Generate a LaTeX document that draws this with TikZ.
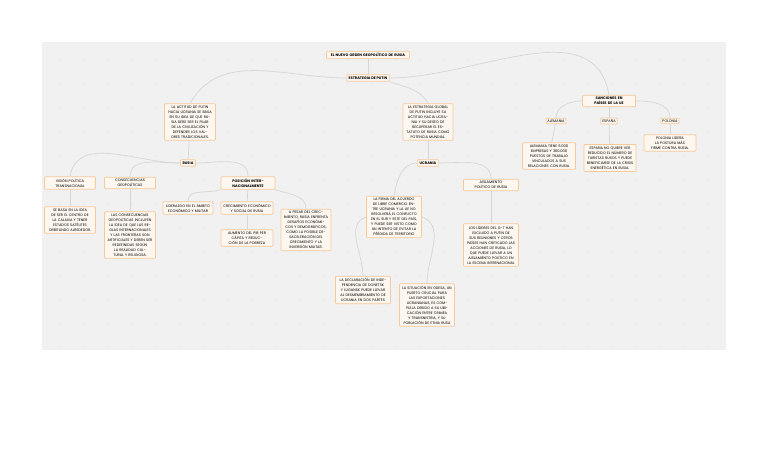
\documentclass[tikz,border=0pt]{standalone}
\usepackage{fontspec}
\setmainfont{Poppins}
\begin{document}
\begin{tikzpicture}[x=1pt,y=-1pt,
  bx/.style={draw=boxline,fill=boxfill,line width=0.7pt,rounded corners=0.8pt,align=center,font=\fontsize{3.6}{5}\selectfont,inner sep=2pt},
  hd/.style={bx,font=\fontsize{3.6}{5}\selectfont\bfseries},
  conn/.style={draw=lineg,line width=0.7pt}]
\definecolor{boxline}{HTML}{F6C99A}
\definecolor{boxfill}{HTML}{FDF7EF}
\definecolor{lineg}{HTML}{D6D6D6}
\definecolor{panel}{HTML}{F1F1F1}
\useasboundingbox (0,0) rectangle (768,466);
\fill[white] (0,0) rectangle (768,466);
\fill[panel] (42,42) rectangle (726,350);
\foreach \i in {0,...,56}{\foreach \j in {0,...,25}{\fill[gray!45] (48+\i*12,48+\j*12) circle (0.45pt);}}
% nodes
\node[hd,text width=79pt] (title) at (368,55) {EL NUEVO ORDEN GEOPOLÍTICO DE RUSIA};
\node[hd] (estr) at (368,78) {ESTRATEGIA DE PUTIN};
\node[bx,text width=47pt] (actitud) at (190,122) {LA ACTITUD DE PUTIN HACIA UCRANIA SE BASA EN SU IDEA DE QUE RUSIA DEBE SER EL PILAR DE LA CIVILIZACIÓN Y DEFENDER LOS VALORES TRADICIONALES.};
\node[hd] (rusia) at (188,163) {RUSIA};
\node[bx,text width=47pt] (vision) at (70,183) {VISIÓN POLÍTICA TRANSNACIONAL};
\node[bx,text width=47pt] (consec) at (130,183) {CONSECUENCIAS GEOPOLÍTICAS};
\node[hd,text width=50pt] (posic) at (248,183) {POSICIÓN INTERNACIONALMENTE};
\node[bx,text width=47pt] (sebasa) at (70,220) {SE BASA EN LA IDEA DE SER EL CENTRO DE LA CALAXIA Y TENER ESTADOS SATÉLITES ORBITANDO ALREDEDOR.};
\node[bx,text width=47pt] (lascon) at (130,235) {LAS CONSECUENCIAS GEOPOLÍTICAS INCLUYEN LA IDEA DE QUE LAS REGLAS INTERNACIONALES Y LAS FRONTERAS SON ARTIFICIALES Y DEBEN SER REDEFINIDAS SEGÚN LA REALIDAD CULTURAL Y RELIGIOSA.};
\node[bx,text width=46pt] (lider) at (188,208) {LIDERAZGO EN EL ÁMBITO ECONÓMICO Y MILITAR};
\node[bx,text width=48pt] (crec) at (247,208) {CRECIMIENTO ECONÓMICO Y SOCIAL DE RUSIA};
\node[bx,text width=48pt] (aum) at (247,238) {AUMENTO DEL PIB PER CÁPITA Y REDUCCIÓN DE LA POBREZA};
\node[bx,text width=46pt] (apesar) at (306,230) {A PESAR DEL CRECIMIENTO, RUSIA ENFRENTA DESAFÍOS ECONÓMICOS Y DEMOGRÁFICOS, COMO LA POSIBLE DESACELERACIÓN DEL CRECIMIENTO Y LA INVERSIÓN MILITAR.};
\node[bx,text width=46pt] (global) at (428,122) {LA ESTRATEGIA GLOBAL DE PUTIN INCLUYE SU ACTITUD HACIA UCRANIA Y SU DESEO DE RECUPERAR EL ESTATUTO DE RUSIA COMO POTENCIA MUNDIAL.};
\node[hd] (ucr) at (428,163) {UCRANIA};
\node[bx,text width=51pt] (firma) at (394,217) {LA FIRMA DEL ACUERDO DE LIBRE COMERCIO ENTRE UCRANIA Y LA UE NO RESOLVERÁ EL CONFLICTO EN EL SUR Y ESTE DEL PAÍS, Y PUEDE SER VISTO COMO UN INTENTO DE EVITAR LA PÉRDIDA DE TERRITORIO};
\node[bx,text width=51pt] (aisl) at (491,185) {AISLAMIENTO POLÍTICO DE RUSIA};
\node[bx,text width=51pt] (lideres) at (491,245) {LOS LÍDERES DEL G-7 HAN EXCLUIDO A PUTIN DE SUS REUNIONES Y OTROS PAÍSES HAN CRITICADO LAS ACCIONES DE RUSIA, LO QUE PUEDE LLEVAR A UN AISLAMIENTO POLÍTICO EN LA ESCENA INTERNACIONAL};
\node[bx,text width=51pt] (decl) at (363,290) {LA DECLARACIÓN DE INDEPENDENCIA DE DONETSK Y LUGANSK PUEDE LLEVAR AL DESMEMBRAMIENTO DE UCRANIA EN DOS PARTES};
\node[bx,text width=51pt] (sit) at (427,305) {LA SITUACIÓN EN ODESA, UN PUERTO CRUCIAL PARA LAS EXPORTACIONES UCRANIANAS, ES COMPLEJA DEBIDO A SU UBICACIÓN ENTRE CRIMEA Y TRANSNISTRIA, Y SU POBLACIÓN DE ETNIA RUSA};
\node[hd,text width=49pt] (sanc) at (609,101) {SANCIONES EN PAÍSES DE LA UE};
\node[bx,inner sep=1.5pt] (ale) at (556,121) {ALEMANIA};
\node[bx,inner sep=1.5pt] (esp) at (609,121) {ESPAÑA};
\node[bx,inner sep=1.5pt] (pol) at (670,121) {POLONIA};
\node[bx,text width=49pt] (aletx) at (549,156) {ALEMANIA TIENE 6.000 EMPRESAS Y 300.000 PUESTOS DE TRABAJO VINCULADOS A SUS RELACIONES CON RUSIA.};
\node[bx,text width=48pt] (esptx) at (610,158) {ESPAÑA NO QUIERE VER REDUCIDO EL NÚMERO DE TURISTAS RUSOS Y PUEDE BENEFICIARSE DE LA CRISIS ENERGÉTICA EN RUSIA.};
\node[bx,text width=48pt] (poltx) at (670,143) {POLONIA LIDERA LA POSTURA MÁS FIRME CONTRA RUSIA.};
% connectors
\begin{scope}[on background layer/.style={}]
\end{scope}
\draw[conn] (title) -- (estr);
\draw[conn] (estr.west) to[out=180,in=60] (actitud.north);
\draw[conn] (estr.east) to[out=0,in=100] (sanc.north);
\draw[conn] (estr.south east) to[out=-20,in=120] (global.north);
\draw[conn] (actitud) -- (rusia);
\draw[conn] (rusia.west) to[out=180,in=80] (vision.north);
\draw[conn] (rusia.west) to[out=180,in=90] (consec.north);
\draw[conn] (rusia.east) to[out=0,in=90] (posic.north);
\draw[conn] (vision) -- (sebasa);
\draw[conn] (consec) -- (lascon);
\draw[conn] (posic.south west) to[out=200,in=90] (lider.north);
\draw[conn] (posic) -- (crec);
\draw[conn] (posic.south east) to[out=-20,in=90] (apesar.north);
\draw[conn] (crec) -- (aum);
\draw[conn] (global) -- (ucr);
\draw[conn] (ucr.west) to[out=180,in=80] (firma.north);
\draw[conn] (ucr.east) to[out=0,in=90] (aisl.north);
\draw[conn] (aisl) -- (lideres);
\draw[conn] (firma.west) to[out=200,in=90] (decl.north);
\draw[conn] (firma.east) to[out=-20,in=90] (sit.north);
\draw[conn] (sanc.west) to[out=180,in=90] (ale.north);
\draw[conn] (sanc) -- (esp);
\draw[conn] (sanc.east) to[out=0,in=90] (pol.north);
\draw[conn] (ale) -- (aletx);
\draw[conn] (esp) -- (esptx);
\draw[conn] (pol) -- (poltx);
% redraw nodes on top
\foreach \n in {title,estr,actitud,rusia,vision,consec,posic,sebasa,lascon,lider,crec,aum,apesar,global,ucr,firma,aisl,lideres,decl,sit,sanc,ale,esp,pol,aletx,esptx,poltx}{}
\end{tikzpicture}
\end{document}
